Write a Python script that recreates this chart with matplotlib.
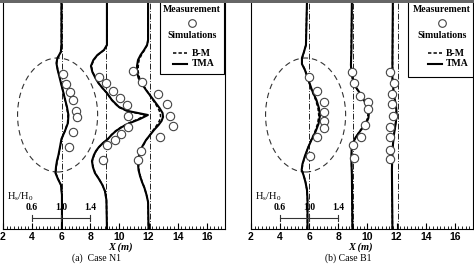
import matplotlib
matplotlib.use("Agg")
import matplotlib.pyplot as plt
from matplotlib.patches import Ellipse, Rectangle
from matplotlib.lines import Line2D
from matplotlib.ticker import MultipleLocator

# ---------------- data ----------------
xticks = [2, 4, 6, 8, 10, 12, 14, 16]
scale_labels = ["0.6", "1.0", "1.4"]
scale_pos = [4, 6, 8]
H_SCALE = 5.0          # 1.0 of Hs/H0 = 5 m on the X axis
shoal_center = (5.75, 0.0)
shoal_width, shoal_height = 5.5, 5.7

# ---- Case N1 ----
bases_a = [6.05, 9.07, 12.1]
a1_y = [5.70, 3.50, 3.15, 2.85, 2.60, 2.30, 2.00, 1.60, 1.20, 0.80, 0.40, 0.00, -0.40, -0.80,
        -1.20, -1.60, -2.00, -2.30, -2.60, -2.90, -3.20, -3.50, -4.00, -5.70]
a1_tma = [0.993, 0.993, 0.984, 0.938, 0.924, 0.938, 0.959, 0.986, 1.014, 1.041, 1.069, 1.089,
          1.082, 1.041, 0.993, 0.973, 0.952, 0.931, 0.918, 0.911, 0.945, 0.986, 1.0, 1.0]
a1_bm = [0.993, 0.993, 0.986, 0.942, 0.928, 0.940, 0.961, 0.988, 1.014, 1.040, 1.066, 1.082,
         1.077, 1.040, 0.995, 0.975, 0.955, 0.935, 0.921, 0.915, 0.947, 0.986, 1.0, 1.0]
a2_y = [5.70, 3.50, 3.25, 3.00, 2.75, 2.45, 2.15, 1.85, 1.60, 1.35, 1.10, 0.75, 0.40, 0.20, 0.00,
        -0.20, -0.40, -0.60, -0.80, -1.00, -1.20, -1.40, -1.60, -1.80, -2.00, -2.30, -2.60, -2.90,
        -3.20, -3.50, -3.80, -4.25, -5.70]
a2_tma = [1.014, 1.014, 0.973, 0.883, 0.828, 0.794, 0.814, 0.856, 0.897, 0.952, 1.014, 1.082,
          1.179, 1.302, 1.577, 1.467, 1.330, 1.220, 1.137, 1.076, 1.027, 0.959, 0.904, 0.863,
          0.835, 0.808, 0.821, 0.849, 0.904, 0.952, 0.986, 1.007, 1.014]
a2_bm = [1.014, 1.014, 0.975, 0.888, 0.833, 0.800, 0.818, 0.858, 0.898, 0.952, 1.012, 1.078,
         1.170, 1.285, 1.545, 1.445, 1.315, 1.212, 1.132, 1.074, 1.026, 0.961, 0.907, 0.867,
         0.840, 0.813, 0.825, 0.852, 0.905, 0.952, 0.986, 1.007, 1.014]
a3_y = [5.70, 3.75, 3.50, 3.25, 3.00, 2.75, 2.45, 2.15, 1.85, 1.55, 1.25, 0.95, 0.65, 0.35, 0.10,
        -0.10, -0.30, -0.50, -0.75, -1.00, -1.25, -1.55, -1.85, -2.15, -2.45, -2.75, -3.05,
        -3.35, -3.65, -4.00, -4.35, -5.70]
a3_tma = [0.973, 0.973, 0.959, 0.918, 0.870, 0.835, 0.821, 0.821, 0.842, 0.890, 0.945, 1.007,
          1.069, 1.130, 1.172, 1.179, 1.158, 1.117, 1.055, 1.0, 0.945, 0.897, 0.863, 0.842,
          0.835, 0.842, 0.863, 0.890, 0.924, 0.952, 0.973, 0.979]
a3_bm = [0.973, 0.973, 0.962, 0.925, 0.882, 0.850, 0.838, 0.838, 0.856, 0.898, 0.948, 1.004,
         1.058, 1.110, 1.140, 1.145, 1.128, 1.095, 1.045, 0.997, 0.948, 0.903, 0.870, 0.850,
         0.843, 0.848, 0.866, 0.892, 0.925, 0.952, 0.973, 0.979]
a1_my = [2.03, 1.53, 1.15, 0.75, 0.20, -0.10, -0.83, -1.58]
a1_mh = [1.01, 1.06, 1.11, 1.15, 1.19, 1.20, 1.15, 1.10]
a2_my = [1.90, 1.58, 1.20, 0.84, 0.50, -0.05, -0.60, -0.93, -1.25, -1.50, -2.23]
a2_mh = [0.90, 1.00, 1.10, 1.20, 1.29, 1.30, 1.30, 1.21, 1.12, 1.01, 0.96]
a3_my = [2.20, 1.65, 1.05, 0.53, -0.05, -0.55, -1.10, -1.78, -2.23]
a3_mh = [0.76, 0.89, 1.11, 1.23, 1.27, 1.32, 1.14, 0.87, 0.84]

# ---- Case B1 ----
bases_b = [5.96, 9.0, 12.07]
b1_y = [5.70, 3.50, 3.15, 2.85, 2.55, 2.25, 1.75, 1.25, 0.75, 0.35, -0.05, -0.45, -0.85, -1.25,
        -1.65, -2.05, -2.45, -2.75, -3.00, -3.35, -3.75, -4.25, -5.70]
b1_tma = [0.977, 0.963, 0.935, 0.908, 0.908, 0.949, 0.997, 1.045, 1.107, 1.141, 1.155, 1.135,
          1.093, 1.038, 0.990, 0.949, 0.915, 0.904, 0.929, 0.956, 0.977, 0.984, 0.984]
b1_bm = [0.977, 0.963, 0.937, 0.912, 0.912, 0.951, 0.996, 1.040, 1.097, 1.128, 1.140, 1.122,
         1.085, 1.034, 0.990, 0.951, 0.918, 0.908, 0.931, 0.957, 0.977, 0.984, 0.984]
b2_y = [5.70, 3.25, 2.50, 2.00, 1.60, 1.35, 1.10, 0.75, 0.40, 0.10, -0.15, -0.45, -0.75, -1.10,
        -1.40, -1.75, -2.25, -3.00, -5.70]
b2_tma = [0.986, 0.979, 0.973, 0.982, 1.014, 1.048, 1.096, 1.151, 1.199, 1.220, 1.213, 1.179,
          1.110, 1.041, 1.0, 0.982, 0.979, 0.986, 0.993]
b2_bm = [0.986, 0.979, 0.975, 0.984, 1.012, 1.044, 1.090, 1.142, 1.188, 1.208, 1.202, 1.170,
         1.105, 1.040, 1.0, 0.983, 0.980, 0.986, 0.993]
b3_y = [5.70, 2.75, 1.75, 1.00, 0.50, 0.10, -0.35, -1.00, -1.75, -2.75, -5.70]
b3_tma = [0.935, 0.929, 0.929, 0.949, 0.977, 0.986, 0.977, 0.949, 0.929, 0.922, 0.929]
b3_bm = [0.935, 0.930, 0.931, 0.950, 0.975, 0.983, 0.975, 0.949, 0.930, 0.924, 0.929]
b1_my = [1.88, 1.20, 0.65, 0.15, -0.28, -0.65, -1.09, -2.03]
b1_mh = [1.01, 1.11, 1.21, 1.21, 1.21, 1.21, 1.12, 1.02]
b2_my = [2.13, 1.59, 0.95, 0.67, 0.28, -0.48, -1.09, -1.50, -2.17]
b2_mh = [0.99, 1.01, 1.10, 1.21, 1.21, 1.16, 1.11, 1.00, 1.01]
b3_my = [2.17, 1.59, 1.05, 0.55, -0.05, -0.59, -1.12, -1.75, -2.22]
b3_mh = [0.89, 0.95, 0.925, 0.925, 0.94, 0.90, 0.90, 0.90, 0.90]

panels = [
    dict(bases=bases_a,
         curves=[(a1_y, a1_tma, a1_bm), (a2_y, a2_tma, a2_bm), (a3_y, a3_tma, a3_bm)],
         meas=[(a1_my, a1_mh), (a2_my, a2_mh), (a3_my, a3_mh)],
         caption="(a)  Case N1"),
    dict(bases=bases_b,
         curves=[(b1_y, b1_tma, b1_bm), (b2_y, b2_tma, b2_bm), (b3_y, b3_tma, b3_bm)],
         meas=[(b1_my, b1_mh), (b2_my, b2_mh), (b3_my, b3_mh)],
         caption="(b) Case B1"),
]

# ---------------- figure ----------------
W, H = 474, 265
fig = plt.figure(figsize=(W / 100, H / 100), dpi=100)

SERIF = ["Liberation Serif", "DejaVu Serif"]
SANS = ["Liberation Sans", "DejaVu Sans"]

ax_px = [(3, 1, 222, 228), (251, 1, 222, 228)]   # left, top, width, height in px
leg_px = [dict(x0=160, x1=224, bot=74, line=(173, 187), txt=192, cx=192),
          dict(x0=407.7, x1=473, bot=77, line=(428, 442), txt=446, cx=442)]
xlabel_px = [121, 361]
caption_px = [97, 348]

for i, p in enumerate(panels):
    l, t, w, h = ax_px[i]
    ax = fig.add_axes([l / W, 1 - (t + h) / H, w / W, h / H])
    ax.set_xlim(2, 17.25)
    ax.set_ylim(-5.7, 5.7)
    ax.set_yticks([])
    ax.xaxis.set_major_locator(MultipleLocator(2))
    ax.xaxis.set_minor_locator(MultipleLocator(0.25))
    ax.tick_params(axis="x", which="major", direction="in", length=4, width=0.8, pad=2)
    ax.tick_params(axis="x", which="minor", direction="in", length=2.5, width=0.6)
    ax.set_xticks(xticks)
    ax.set_xticklabels([str(v) for v in xticks], fontfamily=SANS, fontweight="bold", fontsize=7.5)
    for s in ax.spines.values():
        s.set_linewidth(0.8)

    # shoal outline
    ax.add_patch(Ellipse(shoal_center, shoal_width, shoal_height, fill=False,
                         ls=(0, (5, 3.5)), lw=0.8, ec="#333333"))

    for base, (yy, tma, bm), (my, mh) in zip(p["bases"], p["curves"], p["meas"]):
        ax.axvline(base, color="black", lw=0.6, ls=(0, (7, 2, 1, 2)))
        ax.plot([base + H_SCALE * (v - 1) for v in bm], yy, color="black", lw=1.1,
                ls=(0, (2.2, 1.4)))
        ax.plot([base + H_SCALE * (v - 1) for v in tma], yy, color="black", lw=1.5)
        ax.plot([base + H_SCALE * (v - 1) for v in mh], my, ls="none", marker="o", ms=6,
                mfc="white", mec="#444444", mew=0.8)

    # scale bar
    ybar = -5.15
    ax.plot([scale_pos[0], scale_pos[-1]], [ybar, ybar], color="#333333", lw=0.8)
    for xp in scale_pos:
        ax.plot([xp, xp], [ybar - 0.15, ybar + 0.15], color="#333333", lw=0.8)
    for xp, lab in zip(scale_pos, scale_labels):
        ax.text(xp, -4.65, lab, ha="center", va="center", fontfamily=SERIF,
                fontweight="bold", fontsize=7)
    ax.text(2.3, -4.1, r"$\mathregular{H_s/H_0}$", ha="left", va="center",
            fontfamily=SERIF, fontsize=7.5)

    # legend (manual)
    lg = leg_px[i]
    fx = lambda px: (px - l) / w
    fy = lambda py: (t + h - py) / h
    ax.add_patch(Rectangle((fx(lg["x0"]), fy(lg["bot"])), fx(lg["x1"]) - fx(lg["x0"]),
                           1.2 - fy(lg["bot"]), transform=ax.transAxes, fill=True,
                           fc="white", ec="black", lw=0.8, clip_on=True, zorder=5))
    kw = dict(transform=ax.transAxes, fontfamily=SERIF, fontweight="bold", fontsize=7,
              zorder=6, va="center")
    ax.text(fx(lg["cx"]), fy(9), "Measurement", ha="center", **kw)
    ax.plot([fx(lg["cx"])], [fy(23)], transform=ax.transAxes, marker="o", ms=5.5,
            mfc="white", mec="#444444", mew=0.8, zorder=6)
    ax.text(fx(lg["cx"]), fy(35), "Simulations", ha="center", **kw)
    ax.add_line(Line2D([fx(lg["line"][0]), fx(lg["line"][1])], [fy(53), fy(53)],
                       transform=ax.transAxes, color="black", lw=1.1, ls=(0, (2.2, 1.4)),
                       zorder=6))
    ax.text(fx(lg["txt"]), fy(53), "B-M", ha="left", **kw)
    ax.add_line(Line2D([fx(lg["line"][0]), fx(lg["line"][1])], [fy(64), fy(64)],
                       transform=ax.transAxes, color="black", lw=1.5, zorder=6))
    ax.text(fx(lg["txt"]), fy(64), "TMA", ha="left", **kw)

    fig.text(xlabel_px[i] / W, 1 - 247 / H, "X (m)", ha="center", va="center",
             fontfamily=SERIF, fontweight="bold", fontstyle="italic", fontsize=7.5)
    fig.text(caption_px[i] / W, 1 - 258 / H, p["caption"], ha="center", va="center",
             fontfamily=SERIF, fontsize=7)

# grey top band of the scan
fig.patches.append(Rectangle((0, 1 - 2.5 / H), 1, 2.5 / H, transform=fig.transFigure,
                             fc="#666666", ec="none", zorder=10))

fig.savefig("out.png", dpi=100)
